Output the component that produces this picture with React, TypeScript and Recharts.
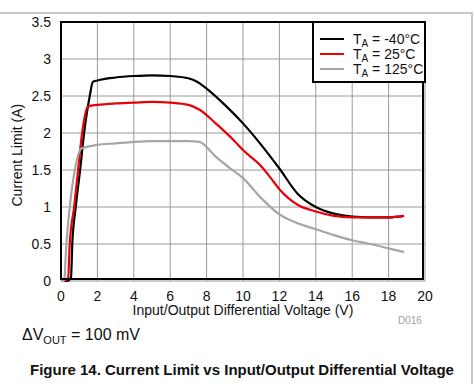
import { CartesianGrid, Line, LineChart, XAxis, YAxis } from "recharts";

// Current limit (A) vs input/output differential voltage (V)
const coldVin = [0, 0.35, 0.55, 0.62, 0.81, 1.05, 1.27, 1.58, 1.75, 2, 3, 4, 5, 6, 7, 7.5, 8, 9, 10, 11, 12, 13, 14, 15, 16, 17, 18, 18.85];
const coldI = [0, 0, 0.05, 0.5, 1.0, 1.5, 2.0, 2.5, 2.69, 2.71, 2.75, 2.77, 2.78, 2.77, 2.74, 2.69, 2.6, 2.38, 2.13, 1.84, 1.52, 1.18, 1.0, 0.91, 0.87, 0.86, 0.86, 0.88];

const roomVin = [0, 0.2, 0.39, 0.48, 0.72, 0.94, 1.16, 1.49, 2, 3, 4, 5, 6, 7, 7.57, 8.5, 9.5, 10, 11, 11.5, 12, 13, 14, 15, 16, 17, 18, 18.85];
const roomI = [0, 0, 0.04, 0.5, 1.0, 1.5, 2.0, 2.36, 2.38, 2.4, 2.41, 2.42, 2.41, 2.38, 2.32, 2.13, 1.9, 1.77, 1.55, 1.4, 1.24, 1.03, 0.94, 0.88, 0.86, 0.86, 0.86, 0.88];

const hotVin = [0, 0.12, 0.2, 0.25, 0.3, 0.48, 0.76, 1.12, 2, 3, 4, 5, 6, 7, 7.6, 8.5, 9.2, 10, 11, 12, 13, 14, 15, 16, 17, 18, 18.85];
const hotI = [0, 0, 0.05, 0.3, 0.5, 1.0, 1.5, 1.79, 1.84, 1.86, 1.88, 1.89, 1.89, 1.89, 1.88, 1.68, 1.54, 1.39, 1.12, 0.9, 0.78, 0.7, 0.62, 0.55, 0.5, 0.44, 0.39];

const xTicks = [0, 2, 4, 6, 8, 10, 12, 14, 16, 18, 20];
const yTicks = [0, 0.5, 1, 1.5, 2, 2.5, 3, 3.5];

const series = [
  { key: "cold", label: "-40°C", color: "#000000", vin: coldVin, amps: coldI },
  { key: "room", label: "25°C", color: "#e8000b", vin: roomVin, amps: roomI },
  { key: "hot", label: "125°C", color: "#a6a6a6", vin: hotVin, amps: hotI },
];

const toRows = (vin: number[], amps: number[]) => vin.map((v, i) => ({ v, a: amps[i] }));

const font = "'Liberation Sans', Arial, sans-serif";

function LegendBox() {
  return (
    <div
      style={{
        position: "absolute",
        left: 312,
        top: 21,
        width: 114,
        height: 62,
        background: "#fff",
        border: "2px solid #000",
        boxSizing: "border-box",
        padding: "8px 0 0 6px",
        fontFamily: font,
        fontSize: 14,
        color: "#111",
        whiteSpace: "nowrap",
      }}
    >
      {series.map((s) => (
        <div key={s.key} style={{ display: "flex", alignItems: "center", height: 15 }}>
          <span style={{ display: "inline-block", width: 24, height: 2, background: s.color, marginRight: 9 }} />
          <span>
            T<sub style={{ fontSize: 10, verticalAlign: "-3px", lineHeight: 0 }}>A</sub> = {s.label}
          </span>
        </div>
      ))}
    </div>
  );
}

export default function App() {
  return (
    <div style={{ position: "absolute", left: 0, top: 0, width: 474, height: 384, background: "#fff", fontFamily: font }}>
      <div style={{ position: "absolute", left: 0, top: 12, width: 473, height: 2, background: "#c8c8c8" }} />
      <div style={{ position: "absolute", left: 471, top: 12, width: 2, height: 372, background: "#c8c8c8" }} />
      <LineChart width={474} height={384} margin={{ top: 22, right: 49, bottom: 73, left: 0 }}>
        <CartesianGrid stroke="#9a9a9a" strokeWidth={1} horizontalValues={yTicks} verticalValues={xTicks} />
        <XAxis
          type="number"
          dataKey="v"
          domain={[0, 20]}
          ticks={xTicks}
          allowDuplicatedCategory={false}
          tickLine={false}
          axisLine={false}
          height={30}
          tickMargin={4}
          tick={{ fontSize: 14, fill: "#111", fontFamily: font }}
        />
        <YAxis
          type="number"
          domain={[0, 3.5]}
          ticks={yTicks}
          width={61}
          tickLine={false}
          axisLine={false}
          tickMargin={4}
          tick={{ fontSize: 14, fill: "#111", fontFamily: font }}
          label={{
            value: "Current Limit (A)",
            angle: -90,
            position: "insideLeft",
            dx: 12,
            dy: 55,
            style: { fontSize: 14, fill: "#111", fontFamily: font },
          }}
        />
        {series.map((s) => (
          <Line
            key={s.key}
            data={toRows(s.vin, s.amps)}
            dataKey="a"
            name={s.label}
            type="monotone"
            stroke={s.color}
            strokeWidth={2.2}
            dot={false}
            isAnimationActive={false}
          />
        ))}
      </LineChart>
      <div style={{ position: "absolute", left: 61, top: 22, width: 364, height: 259, border: "2px solid #000", boxSizing: "border-box", marginLeft: -1, marginTop: -1, pointerEvents: "none" }} />
      <LegendBox />
      <div style={{ position: "absolute", left: 0, width: 486, top: 302, textAlign: "center", fontSize: 14, color: "#111" }}>
        Input/Output Differential Voltage (V)
      </div>
      <div style={{ position: "absolute", left: 398, top: 315, fontSize: 10, color: "#a0a0a0" }}>D016</div>
      <div style={{ position: "absolute", left: 22, top: 326, fontSize: 16, color: "#111" }}>
        ΔV<sub style={{ fontSize: 11, verticalAlign: "-4px" }}>OUT</sub> = 100 mV
      </div>
      <div style={{ position: "absolute", left: 30, top: 361, fontSize: 15, fontWeight: "bold", color: "#111", whiteSpace: "nowrap" }}>
        Figure 14. Current Limit vs Input/Output Differential Voltage
      </div>
    </div>
  );
}
